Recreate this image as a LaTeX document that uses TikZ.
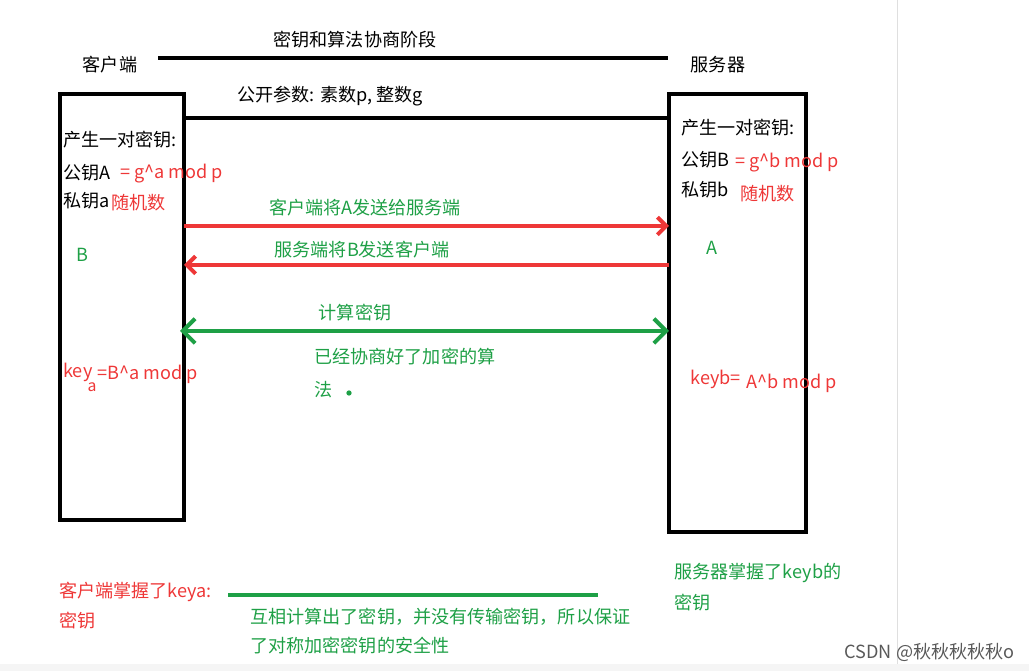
\documentclass[tikz,border=0pt]{standalone}
\usepackage{fontspec}
\setmainfont{Noto Sans CJK SC}
\usetikzlibrary{arrows.meta}
\definecolor{rd}{RGB}{238,55,55}
\definecolor{gn}{RGB}{30,160,70}
\begin{document}
\begin{tikzpicture}[x=0.02cm,y=-0.02cm,
  t/.style={font=\fontsize{10.3}{12}\selectfont,inner sep=0pt},
  r/.style={t,text=rd},
  g/.style={t,text=gn},
  bx/.style={draw=black,line width=1.8pt},
  ln/.style={line width=1.8pt},
  ca/.style={line width=2.3pt}]
\useasboundingbox (0,0) rectangle (1029,671);
\fill[gray!8] (0,664) rectangle (1029,671);
\draw[gray!25] (897,0) -- (897,664);
\node[t] (cl) at (110,65) {客户端};
\node[t] (sv) at (718,65) {服务器};
\node[t] (ph) at (355,40) {密钥和算法协商阶段};
\coordinate (p1) at (158,58); \coordinate (p2) at (668,58);
\draw[ln] (p1) -- (p2);
\node[bx,minimum width=124*0.02cm,minimum height=426*0.02cm,inner sep=0pt] (L) at (122,307) {};
\node[bx,minimum width=137*0.02cm,minimum height=438*0.02cm,inner sep=0pt] (R) at (737.5,313) {};
\node[t] (pp) at (330,96) {公开参数: 素数p, 整数g};
\coordinate (q1) at (184,118); \coordinate (q2) at (669,118);
\draw[ln] (q1) -- (q2);
\node[t,anchor=west] (l1) at (63,140) {产生一对密钥:};
\node[t,anchor=west] (l2) at (63,173) {公钥A};
\node[r,anchor=west] (l3) at (120,174) {= g\textasciicircum a mod p};
\node[t,anchor=west] (l4) at (63,201) {私钥a};
\node[r,anchor=west] (l5) at (111,203) {随机数};
\node[g] (lb) at (82,255) {B};
\node[r,anchor=west] (lk) at (63,372) {key};
\node[r,font=\fontsize{9}{10}\selectfont] (lka) at (92,387) {a};
\node[r,anchor=west] (lk2) at (97,374) {=B\textasciicircum a mod p};
\node[t,anchor=west] (r1) at (681,128) {产生一对密钥:};
\node[t,anchor=west] (r2) at (681,160) {公钥B};
\node[r,anchor=west] (r3) at (735,163) {= g\textasciicircum b mod p};
\node[t,anchor=west] (r4) at (681,190) {私钥b};
\node[r,anchor=west] (r5) at (740,194) {随机数};
\node[g] (ra) at (712,248) {A};
\node[r,anchor=west] (rk) at (690,379) {keyb=};
\node[r,anchor=west] (rk2) at (746,383) {A\textasciicircum b mod p};
\coordinate (a1) at (184,226); \coordinate (a2) at (669,226);
\draw[ca,rd,-{Straight Barb[length=5pt]}] (a1) -- (a2);
\node[g] (m1) at (365,208) {客户端将A发送给服务端};
\coordinate (b1) at (669,265); \coordinate (b2) at (184,265);
\draw[ca,rd,-{Straight Barb[length=5pt]}] (b1) -- (b2);
\node[g] (m2) at (362,250) {服务端将B发送客户端};
\coordinate (c1) at (180,331); \coordinate (c2) at (669,331);
\draw[ca,gn,{Straight Barb[length=7pt,width=14pt]}-{Straight Barb[length=7pt,width=14pt]}] (c1) -- (c2);
\node[g] (m3) at (355,313) {计算密钥};
\node[g,anchor=west] (m4) at (314,357) {已经协商好了加密的算};
\node[g,anchor=west] (m5) at (314,390) {法};
\fill[gn] (349,393) circle (1.5pt);
\node[r,anchor=west] (bl1) at (59,592) {客户端掌握了keya:};
\node[r,anchor=west] (bl2) at (59,621) {密钥};
\coordinate (d1) at (228,595); \coordinate (d2) at (598,595);
\draw[ca,gn] (d1) -- (d2);
\node[g,anchor=west] (bm1) at (250,617) {互相计算出了密钥，并没有传输密钥，所以保证};
\node[g,anchor=west] (bm2) at (250,646) {了对称加密密钥的安全性};
\node[g,anchor=west] (br1) at (674,573) {服务器掌握了keyb的};
\node[g,anchor=west] (br2) at (674,603) {密钥};
\node[t,text=gray!70!black,anchor=east] (wm) at (1015,652) {CSDN @秋秋秋秋秋o};
\end{tikzpicture}
\end{document}
